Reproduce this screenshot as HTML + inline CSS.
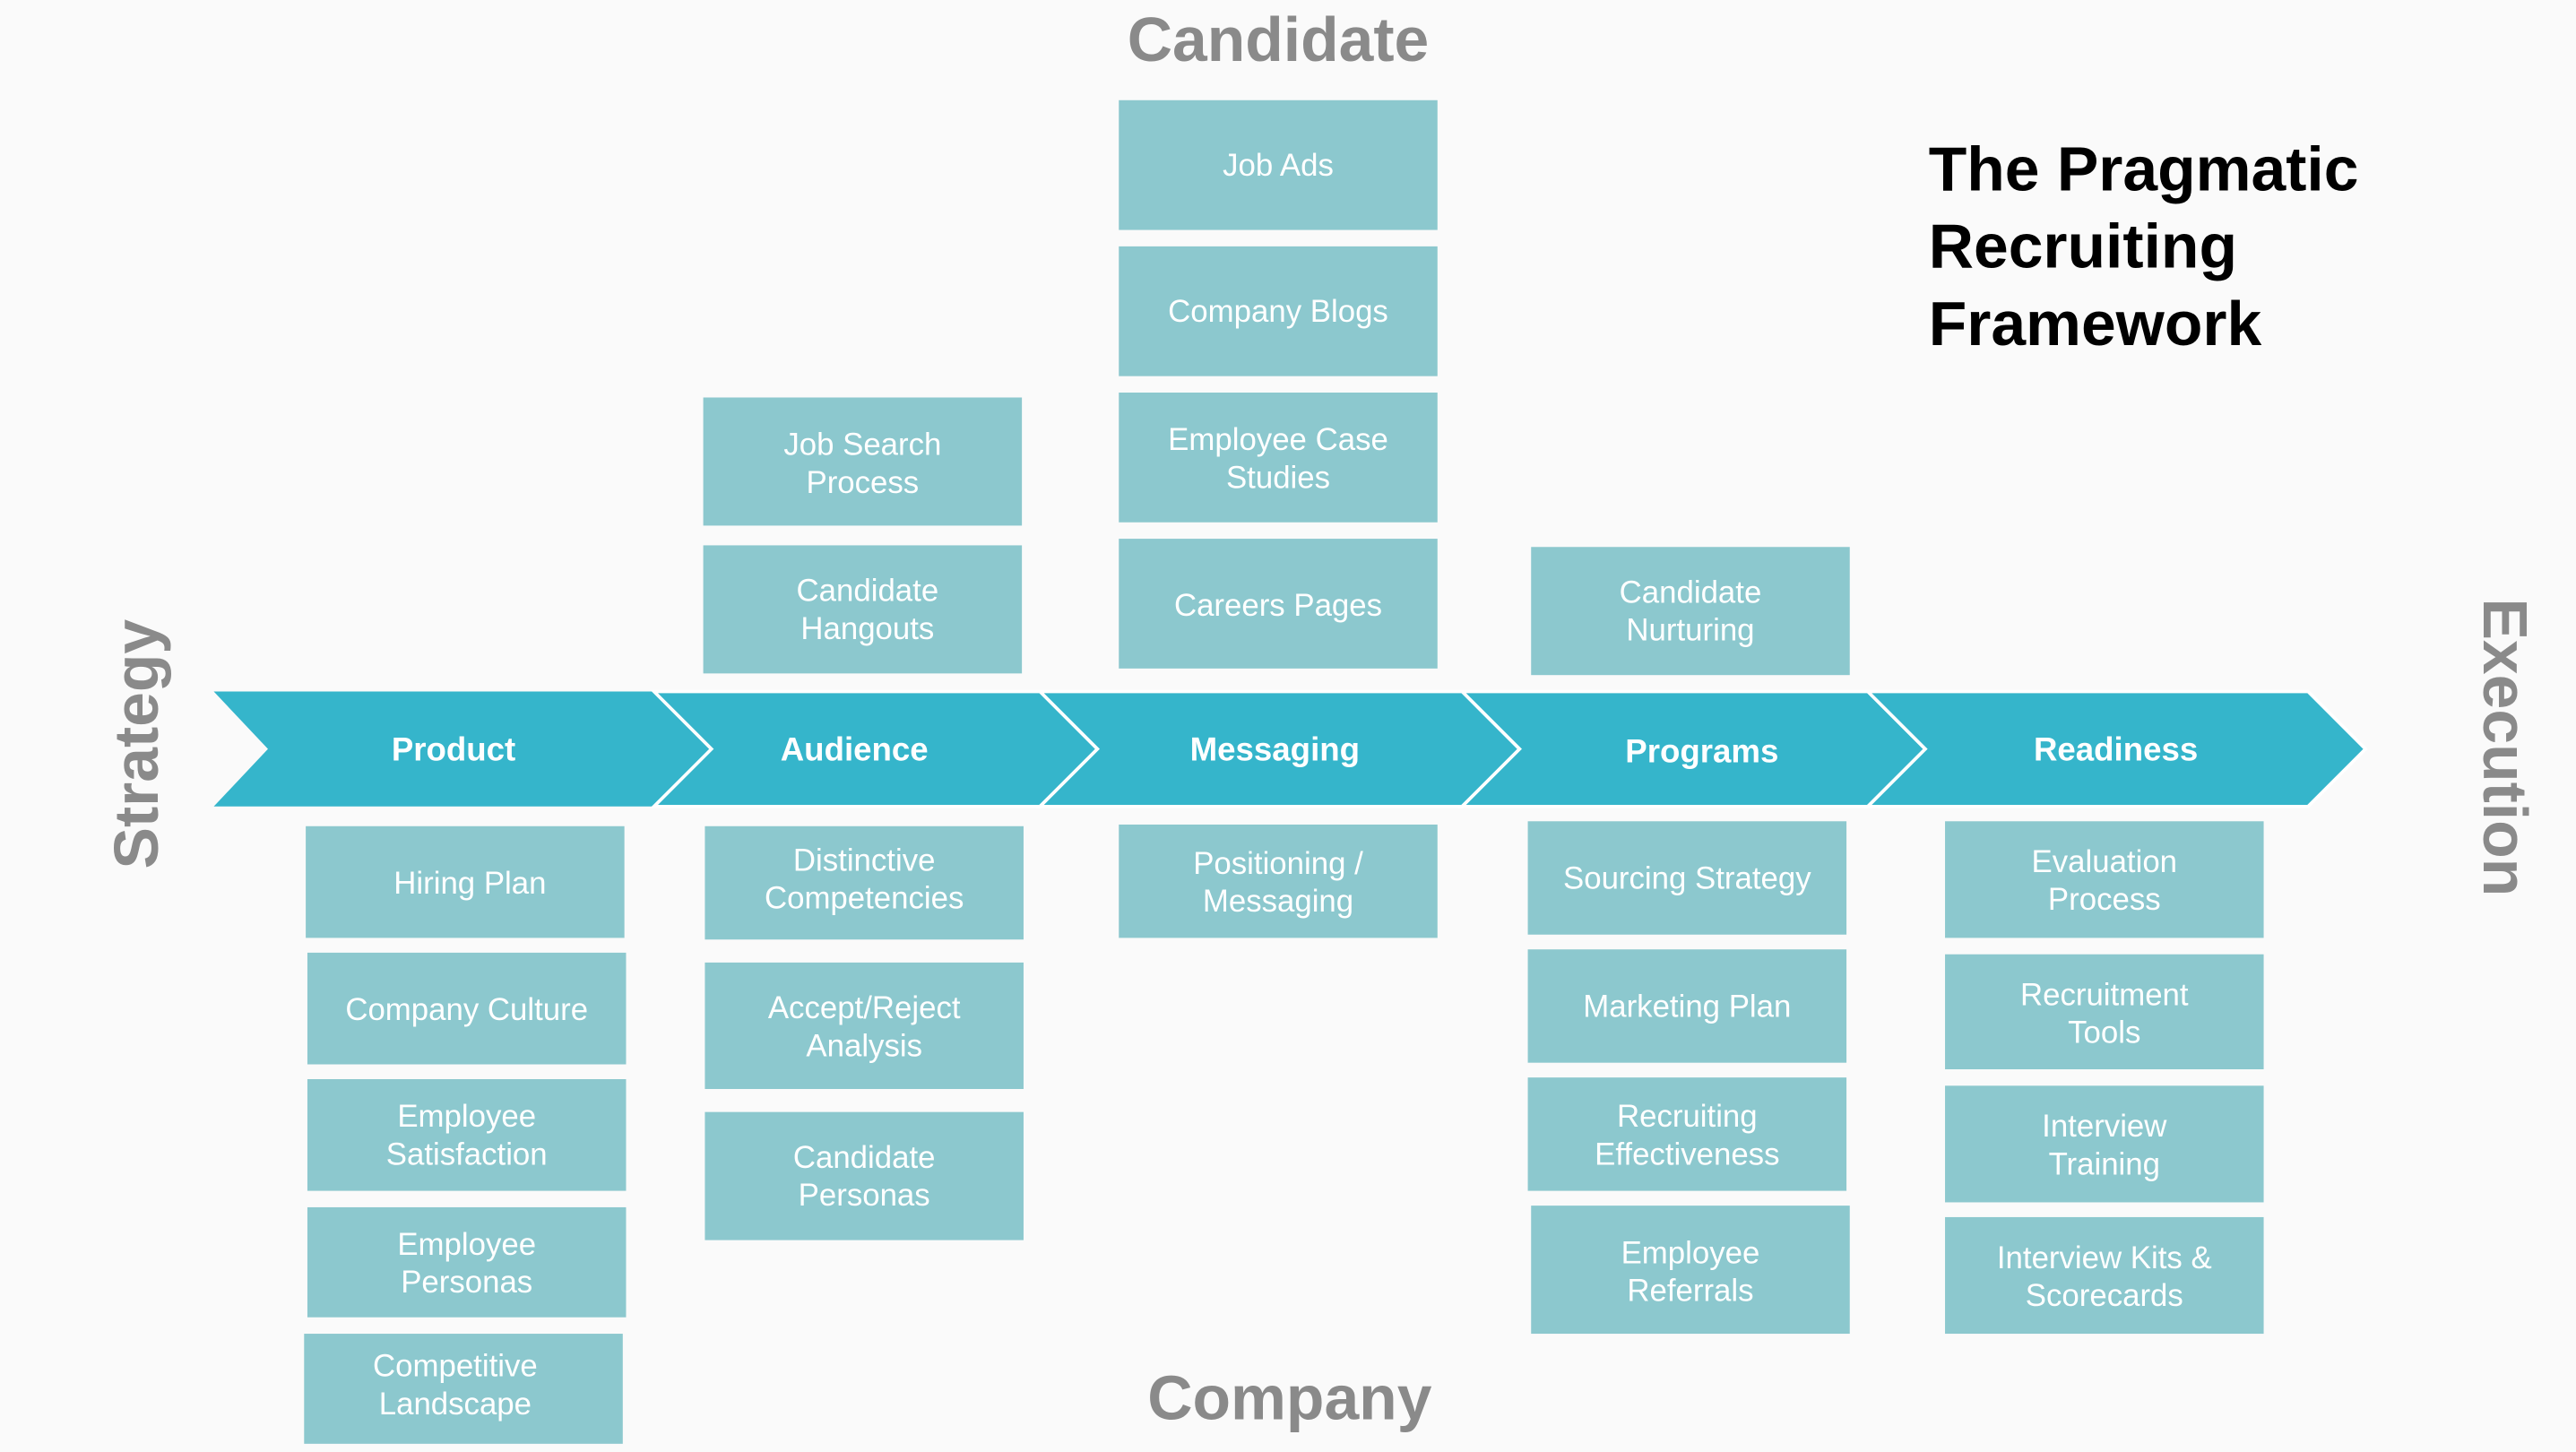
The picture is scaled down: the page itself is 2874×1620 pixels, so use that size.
<!DOCTYPE html>
<html><head><meta charset="utf-8"><style>
html,body{margin:0;padding:0;background:#fafafa;}
svg{display:block;}
text{font-family:"Liberation Sans",sans-serif;}
.b{fill:#8cc8ce;}
.t{fill:#fff;font-size:19px;text-anchor:middle;}
.h{fill:#fff;font-size:20px;font-weight:bold;text-anchor:middle;}
.g{fill:#8a8a8a;font-size:38px;font-weight:bold;text-anchor:middle;}
</style></head><body>
<svg width="2874" height="1620" viewBox="0 0 1568 884" xmlns="http://www.w3.org/2000/svg">
<rect width="1568" height="884" fill="#fafafa"/>
<g fill="#35b5cb" stroke="#fff" stroke-width="2">
<polygon points="130,421 398,421 433,456 398,491 130,491 163,456" stroke="none"/>
<polygon points="398,421 633,421 668,456 633,491 398,491 433,456"/>
<polygon points="633,421 890,421 925,456 890,491 633,491 668,456"/>
<polygon points="890,421 1137,421 1172,456 1137,491 890,491 925,456"/>
<polygon points="1137,421 1405,421 1440,456 1405,491 1137,491 1172,456"/>
</g>
<text class="h" x="276" y="463">Product</text>
<text class="h" x="520" y="463">Audience</text>
<text class="h" x="776" y="463">Messaging</text>
<text class="h" x="1036" y="464">Programs</text>
<text class="h" x="1288" y="463">Readiness</text>

<g class="b">
<rect x="186" y="503" width="194" height="68"/>
<rect x="187" y="580" width="194" height="68"/>
<rect x="187" y="657" width="194" height="68"/>
<rect x="187" y="735" width="194" height="67"/>
<rect x="185" y="812" width="194" height="67"/>
<rect x="428" y="242" width="194" height="78"/>
<rect x="428" y="332" width="194" height="78"/>
<rect x="429" y="503" width="194" height="69"/>
<rect x="429" y="586" width="194" height="77"/>
<rect x="429" y="677" width="194" height="78"/>
<rect x="681" y="61" width="194" height="79"/>
<rect x="681" y="150" width="194" height="79"/>
<rect x="681" y="239" width="194" height="79"/>
<rect x="681" y="328" width="194" height="79"/>
<rect x="681" y="502" width="194" height="69"/>
<rect x="932" y="333" width="194" height="78"/>
<rect x="930" y="500" width="194" height="69"/>
<rect x="930" y="578" width="194" height="69"/>
<rect x="930" y="656" width="194" height="69"/>
<rect x="932" y="734" width="194" height="78"/>
<rect x="1184" y="500" width="194" height="71"/>
<rect x="1184" y="581" width="194" height="70"/>
<rect x="1184" y="661" width="194" height="71"/>
<rect x="1184" y="741" width="194" height="71"/>
</g>
<g class="t">
<text x="286" y="544">Hiring Plan</text>
<text x="284" y="621">Company Culture</text>
<text x="284" y="686">Employee</text><text x="284" y="709">Satisfaction</text>
<text x="284" y="764">Employee</text><text x="284" y="787">Personas</text>
<text x="277" y="838">Competitive</text><text x="277" y="861">Landscape</text>
<text x="525" y="277">Job Search</text><text x="525" y="300">Process</text>
<text x="528" y="366">Candidate</text><text x="528" y="389">Hangouts</text>
<text x="526" y="530">Distinctive</text><text x="526" y="553">Competencies</text>
<text x="526" y="620">Accept/Reject</text><text x="526" y="643">Analysis</text>
<text x="526" y="711">Candidate</text><text x="526" y="734">Personas</text>
<text x="778" y="107">Job Ads</text>
<text x="778" y="196">Company Blogs</text>
<text x="778" y="274">Employee Case</text><text x="778" y="297">Studies</text>
<text x="778" y="375">Careers Pages</text>
<text x="778" y="532">Positioning /</text><text x="778" y="555">Messaging</text>
<text x="1029" y="367">Candidate</text><text x="1029" y="390">Nurturing</text>
<text x="1027" y="541">Sourcing Strategy</text>
<text x="1027" y="619">Marketing Plan</text>
<text x="1027" y="686">Recruiting</text><text x="1027" y="709">Effectiveness</text>
<text x="1029" y="769">Employee</text><text x="1029" y="792">Referrals</text>
<text x="1281" y="531">Evaluation</text><text x="1281" y="554">Process</text>
<text x="1281" y="612">Recruitment</text><text x="1281" y="635">Tools</text>
<text x="1281" y="692">Interview</text><text x="1281" y="715">Training</text>
<text x="1281" y="772">Interview Kits &amp;</text><text x="1281" y="795">Scorecards</text>
</g>
<text class="g" x="778" y="37">Candidate</text>
<text class="g" x="785" y="864">Company</text>
<text class="g" transform="translate(96,453) rotate(-90)">Strategy</text>
<text class="g" transform="translate(1512,455) rotate(90)">Execution</text>
<g style="font-size:38px;font-weight:bold;fill:#000">
<text x="1174" y="116">The Pragmatic</text>
<text x="1174" y="163">Recruiting</text>
<text x="1174" y="210">Framework</text>
</g>
</svg>
</body></html>
